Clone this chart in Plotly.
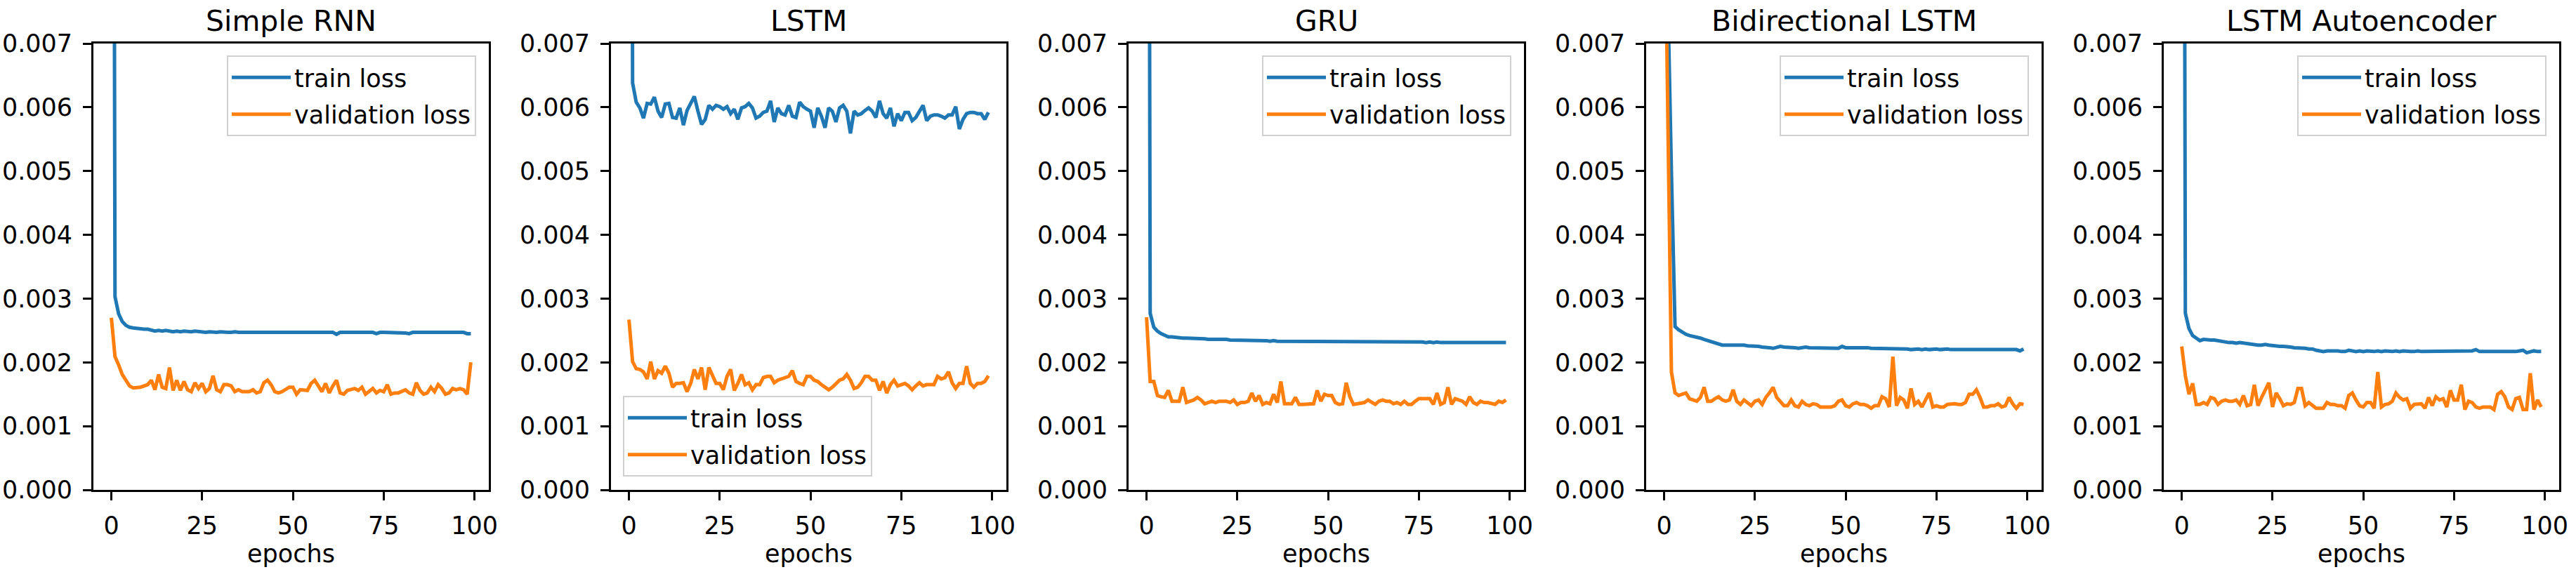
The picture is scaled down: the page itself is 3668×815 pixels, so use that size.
import plotly.graph_objects as go
from plotly.subplots import make_subplots

# -----------------------------
# Data (loss values in units of 1e-3)
# -----------------------------
model_names = ["Simple RNN", "LSTM", "GRU", "Bidirectional LSTM", "LSTM Autoencoder"]
epochs = list(range(100))
x_ticks = [0, 25, 50, 75, 100]

rnn_train = [
    30.0, 3.03, 2.76, 2.64, 2.58, 2.55, 2.54, 2.53, 2.53, 2.52,
    2.52, 2.50, 2.49, 2.50, 2.49, 2.50, 2.49, 2.48, 2.49, 2.48,
    2.49, 2.48, 2.48, 2.49, 2.48, 2.48, 2.47, 2.48, 2.47, 2.47,
    2.48, 2.47, 2.47, 2.47, 2.48, 2.47, 2.47, 2.47, 2.48, 2.47,
    2.47, 2.48, 2.47, 2.47, 2.47, 2.48, 2.47, 2.47, 2.47, 2.48,
    2.47, 2.47, 2.48, 2.47, 2.47, 2.47, 2.48, 2.47, 2.47, 2.47,
    2.47, 2.47, 2.44, 2.47, 2.47, 2.47, 2.47, 2.47, 2.46, 2.47,
    2.47, 2.47, 2.47, 2.45, 2.47, 2.47, 2.47, 2.47, 2.47, 2.47,
    2.47, 2.46, 2.45, 2.47, 2.47, 2.47, 2.47, 2.47, 2.47, 2.47,
    2.46, 2.47, 2.47, 2.47, 2.47, 2.47, 2.46, 2.47, 2.45, 2.45,
]
rnn_val = [
    2.70, 2.09, 1.96, 1.81, 1.72, 1.63, 1.60, 1.60, 1.61, 1.63,
    1.65, 1.72, 1.57, 1.81, 1.61, 1.59, 1.92, 1.56, 1.72, 1.56,
    1.70, 1.57, 1.54, 1.68, 1.59, 1.67, 1.54, 1.59, 1.79, 1.57,
    1.54, 1.65, 1.65, 1.63, 1.54, 1.57, 1.54, 1.54, 1.54, 1.57,
    1.52, 1.54, 1.68, 1.72, 1.65, 1.54, 1.52, 1.54, 1.57, 1.61,
    1.61, 1.50, 1.57, 1.56, 1.56, 1.67, 1.72, 1.63, 1.54, 1.67,
    1.52, 1.63, 1.72, 1.52, 1.50, 1.56, 1.57, 1.59, 1.56, 1.61,
    1.50, 1.54, 1.59, 1.52, 1.56, 1.54, 1.65, 1.50, 1.52, 1.52,
    1.54, 1.57, 1.52, 1.50, 1.68, 1.56, 1.50, 1.52, 1.61, 1.54,
    1.65, 1.59, 1.50, 1.52, 1.59, 1.57, 1.59, 1.57, 1.50, 2.00,
]

lstm_train = [
    30.0, 6.38, 6.08, 5.99, 5.83, 6.06, 6.05, 6.16, 5.94, 5.84,
    6.05, 6.06, 5.84, 5.83, 5.99, 5.72, 5.95, 6.06, 6.17, 5.94,
    5.73, 5.81, 6.03, 5.97, 6.03, 6.01, 5.97, 6.01, 5.90, 5.97,
    5.81, 5.99, 6.01, 6.06, 5.99, 5.83, 5.86, 5.92, 5.94, 6.10,
    5.77, 5.99, 5.90, 5.88, 6.03, 5.86, 5.84, 6.08, 6.01, 5.97,
    5.94, 5.68, 5.99, 5.86, 5.68, 5.99, 5.94, 5.77, 5.99, 6.03,
    5.94, 5.59, 5.94, 5.88, 5.90, 5.95, 5.99, 5.94, 5.84, 6.10,
    5.90, 5.83, 5.99, 5.70, 5.90, 5.79, 5.92, 5.92, 5.79, 5.84,
    5.94, 6.03, 5.79, 5.86, 5.88, 5.88, 5.86, 5.83, 5.88, 5.88,
    6.01, 5.66, 5.81, 5.90, 5.92, 5.92, 5.90, 5.90, 5.81, 5.92,
]
lstm_val = [
    2.67, 2.01, 1.90, 1.89, 1.85, 1.74, 2.01, 1.74, 1.87, 1.83,
    1.94, 1.83, 1.61, 1.67, 1.67, 1.68, 1.54, 1.67, 1.89, 1.74,
    1.92, 1.57, 1.92, 1.79, 1.67, 1.67, 1.57, 1.78, 1.89, 1.56,
    1.67, 1.81, 1.65, 1.68, 1.57, 1.65, 1.65, 1.76, 1.78, 1.78,
    1.68, 1.72, 1.74, 1.76, 1.78, 1.87, 1.70, 1.67, 1.65, 1.78,
    1.78, 1.72, 1.70, 1.65, 1.61, 1.57, 1.61, 1.67, 1.72, 1.74,
    1.81, 1.72, 1.59, 1.61, 1.68, 1.78, 1.78, 1.72, 1.72, 1.56,
    1.70, 1.52, 1.65, 1.72, 1.63, 1.65, 1.67, 1.63, 1.57, 1.63,
    1.68, 1.63, 1.65, 1.65, 1.65, 1.78, 1.74, 1.76, 1.85, 1.68,
    1.59, 1.67, 1.67, 1.94, 1.67, 1.61, 1.67, 1.67, 1.70, 1.79,
]

gru_train = [
    30.0, 2.77, 2.55, 2.49, 2.45, 2.42, 2.40, 2.40, 2.39, 2.39,
    2.38, 2.38, 2.38, 2.37, 2.37, 2.38, 2.37, 2.36, 2.36, 2.37,
    2.36, 2.36, 2.36, 2.35, 2.35, 2.35, 2.35, 2.34, 2.35, 2.34,
    2.34, 2.34, 2.34, 2.34, 2.33, 2.34, 2.33, 2.33, 2.33, 2.33,
    2.33, 2.33, 2.33, 2.33, 2.33, 2.33, 2.33, 2.33, 2.33, 2.32,
    2.33, 2.32, 2.33, 2.32, 2.32, 2.32, 2.32, 2.32, 2.32, 2.32,
    2.32, 2.32, 2.32, 2.32, 2.32, 2.32, 2.32, 2.32, 2.32, 2.32,
    2.32, 2.32, 2.32, 2.32, 2.32, 2.32, 2.32, 2.31, 2.32, 2.31,
    2.32, 2.31, 2.31, 2.32, 2.31, 2.31, 2.31, 2.32, 2.31, 2.31,
    2.31, 2.31, 2.31, 2.32, 2.31, 2.31, 2.31, 2.31, 2.31, 2.31,
]
gru_val = [
    2.71, 1.70, 1.70, 1.48, 1.46, 1.45, 1.56, 1.39, 1.39, 1.39,
    1.61, 1.37, 1.39, 1.41, 1.45, 1.41, 1.35, 1.37, 1.39, 1.37,
    1.39, 1.39, 1.39, 1.37, 1.41, 1.34, 1.37, 1.37, 1.39, 1.52,
    1.39, 1.48, 1.34, 1.37, 1.35, 1.50, 1.37, 1.70, 1.35, 1.35,
    1.35, 1.45, 1.34, 1.34, 1.34, 1.34, 1.35, 1.56, 1.39, 1.50,
    1.48, 1.48, 1.37, 1.34, 1.35, 1.68, 1.46, 1.34, 1.35, 1.37,
    1.37, 1.41, 1.37, 1.34, 1.39, 1.41, 1.39, 1.39, 1.35, 1.37,
    1.34, 1.39, 1.34, 1.34, 1.39, 1.43, 1.43, 1.43, 1.43, 1.34,
    1.52, 1.34, 1.37, 1.61, 1.34, 1.43, 1.41, 1.39, 1.34, 1.46,
    1.37, 1.34, 1.39, 1.37, 1.37, 1.35, 1.34, 1.39, 1.37, 1.41,
]

bilstm_train = [
    30.0, 7.80, 5.00, 2.56, 2.51, 2.47, 2.44, 2.42, 2.41, 2.40,
    2.38, 2.36, 2.34, 2.32, 2.31, 2.29, 2.27, 2.27, 2.27, 2.28,
    2.28, 2.28, 2.27, 2.26, 2.26, 2.25, 2.25, 2.24, 2.24, 2.23,
    2.22, 2.24, 2.25, 2.24, 2.24, 2.23, 2.23, 2.22, 2.23, 2.24,
    2.23, 2.23, 2.23, 2.22, 2.23, 2.22, 2.22, 2.23, 2.22, 2.25,
    2.23, 2.23, 2.23, 2.23, 2.24, 2.23, 2.23, 2.22, 2.22, 2.22,
    2.22, 2.21, 2.21, 2.21, 2.22, 2.21, 2.21, 2.21, 2.20, 2.21,
    2.21, 2.20, 2.21, 2.20, 2.21, 2.21, 2.20, 2.21, 2.21, 2.20,
    2.20, 2.21, 2.20, 2.20, 2.20, 2.21, 2.20, 2.20, 2.21, 2.20,
    2.20, 2.20, 2.21, 2.20, 2.20, 2.20, 2.21, 2.20, 2.18, 2.21,
]
bilstm_val = [
    10.0, 6.00, 1.85, 1.52, 1.48, 1.50, 1.52, 1.43, 1.41, 1.39,
    1.45, 1.61, 1.39, 1.39, 1.43, 1.46, 1.41, 1.39, 1.41, 1.57,
    1.39, 1.34, 1.41, 1.37, 1.32, 1.39, 1.41, 1.34, 1.45, 1.52,
    1.61, 1.45, 1.39, 1.32, 1.32, 1.41, 1.32, 1.30, 1.39, 1.34,
    1.32, 1.35, 1.34, 1.30, 1.30, 1.30, 1.30, 1.32, 1.39, 1.41,
    1.32, 1.30, 1.35, 1.37, 1.34, 1.34, 1.32, 1.28, 1.32, 1.32,
    1.46, 1.43, 1.30, 2.09, 1.32, 1.45, 1.41, 1.28, 1.59, 1.34,
    1.39, 1.30, 1.41, 1.52, 1.30, 1.32, 1.30, 1.30, 1.34, 1.35,
    1.35, 1.34, 1.34, 1.37, 1.50, 1.50, 1.57, 1.45, 1.30, 1.30,
    1.32, 1.32, 1.35, 1.30, 1.32, 1.45, 1.35, 1.28, 1.35, 1.34,
]

ae_train = [
    30.0, 2.77, 2.53, 2.42, 2.38, 2.34, 2.36, 2.35, 2.35, 2.35,
    2.34, 2.33, 2.31, 2.31, 2.31, 2.30, 2.31, 2.30, 2.29, 2.28,
    2.28, 2.27, 2.27, 2.28, 2.27, 2.26, 2.26, 2.25, 2.25, 2.25,
    2.24, 2.23, 2.23, 2.22, 2.22, 2.21, 2.21, 2.19, 2.18, 2.17,
    2.18, 2.18, 2.19, 2.18, 2.17, 2.17, 2.19, 2.18, 2.17, 2.18,
    2.17, 2.18, 2.17, 2.17, 2.18, 2.17, 2.18, 2.17, 2.17, 2.18,
    2.17, 2.18, 2.17, 2.17, 2.17, 2.18, 2.17, 2.17, 2.18, 2.17,
    2.17, 2.17, 2.18, 2.17, 2.17, 2.18, 2.17, 2.17, 2.17, 2.18,
    2.18, 2.20, 2.17, 2.17, 2.17, 2.16, 2.17, 2.17, 2.17, 2.16,
    2.17, 2.17, 2.17, 2.18, 2.19, 2.15, 2.17, 2.18, 2.17, 2.17,
]
ae_val = [
    2.25, 1.79, 1.50, 1.67, 1.34, 1.34, 1.37, 1.34, 1.45, 1.43,
    1.34, 1.39, 1.41, 1.39, 1.39, 1.41, 1.34, 1.48, 1.32, 1.34,
    1.65, 1.32, 1.45, 1.56, 1.68, 1.30, 1.52, 1.43, 1.32, 1.35,
    1.34, 1.37, 1.59, 1.59, 1.32, 1.37, 1.32, 1.28, 1.28, 1.28,
    1.37, 1.34, 1.34, 1.32, 1.32, 1.28, 1.48, 1.52, 1.41, 1.32,
    1.30, 1.37, 1.37, 1.28, 1.85, 1.30, 1.34, 1.35, 1.39, 1.52,
    1.45, 1.41, 1.43, 1.28, 1.34, 1.34, 1.35, 1.28, 1.45, 1.32,
    1.46, 1.41, 1.43, 1.30, 1.56, 1.41, 1.41, 1.65, 1.26, 1.39,
    1.37, 1.30, 1.28, 1.30, 1.30, 1.30, 1.26, 1.50, 1.54, 1.46,
    1.30, 1.26, 1.43, 1.45, 1.26, 1.26, 1.83, 1.26, 1.41, 1.30,
]

train_series = [rnn_train, lstm_train, gru_train, bilstm_train, ae_train]
val_series = [rnn_val, lstm_val, gru_val, bilstm_val, ae_val]

# -----------------------------
# Layout constants (pixels of the 3668x815 canvas)
# -----------------------------
W, H = 3668, 815
PANEL_LEFT0, PANEL_W, PANEL_PITCH = 133, 563, 737
PANEL_TOP, PANEL_BOTTOM = 62, 698
FONT = "DejaVu Sans"
BLUE, ORANGE = "#1f77b4", "#ff7f0e"

fig = make_subplots(rows=1, cols=5)

for i, name in enumerate(model_names):
    col = i + 1
    legend_id = "legend" if i == 0 else f"legend{col}"
    fig.add_trace(go.Scatter(
        x=epochs, y=[v / 1000 for v in train_series[i]], mode="lines",
        name="train loss", line=dict(color=BLUE, width=5),
        legend=legend_id, legendgroup=f"train{col}",
    ), row=1, col=col)
    fig.add_trace(go.Scatter(
        x=epochs, y=[v / 1000 for v in val_series[i]], mode="lines",
        name="validation loss", line=dict(color=ORANGE, width=5),
        legend=legend_id, legendgroup=f"val{col}",
    ), row=1, col=col)

axis_common = dict(
    showline=True, linecolor="black", linewidth=2.7, mirror=True,
    ticks="outside", ticklen=12, tickwidth=2.7, tickcolor="black",
    showgrid=False, zeroline=False, automargin=False,
    tickfont=dict(family=FONT, size=35, color="black"),
)

layout_updates = {}
annotations = []
for i, name in enumerate(model_names):
    left = PANEL_LEFT0 + i * PANEL_PITCH
    right = left + PANEL_W
    sfx = "" if i == 0 else str(i + 1)
    layout_updates[f"xaxis{sfx}"] = dict(
        axis_common,
        domain=[left / W, right / W],
        range=[-4.95, 103.95], tickvals=x_ticks, ticklabelstandoff=6,
        title=dict(text="epochs", font=dict(family=FONT, size=35, color="black"), standoff=2),
    )
    layout_updates[f"yaxis{sfx}"] = dict(
        axis_common,
        domain=[(H - PANEL_BOTTOM) / H, (H - PANEL_TOP) / H],
        range=[0, 0.007], dtick=0.001, tickformat=".3f", ticklabelstandoff=8,
    )
    annotations.append(dict(
        text=name, xref="paper", yref="paper",
        x=(left + right) / 2 / W, y=(H - 30) / H,
        xanchor="center", yanchor="middle", showarrow=False,
        font=dict(family=FONT, size=41, color="black"),
    ))
    legend_box = dict(
        bgcolor="rgba(255,255,255,0.8)", bordercolor="#d0d0d0", borderwidth=2,
        font=dict(family=FONT, size=35, color="black"), itemwidth=84,
        tracegroupgap=4, xref="paper", yref="paper",
    )
    if i == 1:
        legend_box.update(x=(left + 17) / W, y=(H - PANEL_BOTTOM + 19) / H,
                          xanchor="left", yanchor="bottom")
    else:
        legend_box.update(x=(right - 18) / W, y=(H - PANEL_TOP - 17) / H,
                          xanchor="right", yanchor="top")
    layout_updates["legend" if i == 0 else f"legend{i + 1}"] = legend_box

fig.update_layout(
    width=W, height=H,
    margin=dict(l=0, r=0, t=0, b=0, pad=0, autoexpand=False),
    paper_bgcolor="white", plot_bgcolor="white",
    font=dict(family=FONT, color="black"),
    annotations=annotations,
    **layout_updates,
)

# page body margin would push the 3668x815 figure off the window
fig.write_html(
    "out.html",
    config={"displayModeBar": False},
    post_script="document.body.style.margin = '0';",
)
